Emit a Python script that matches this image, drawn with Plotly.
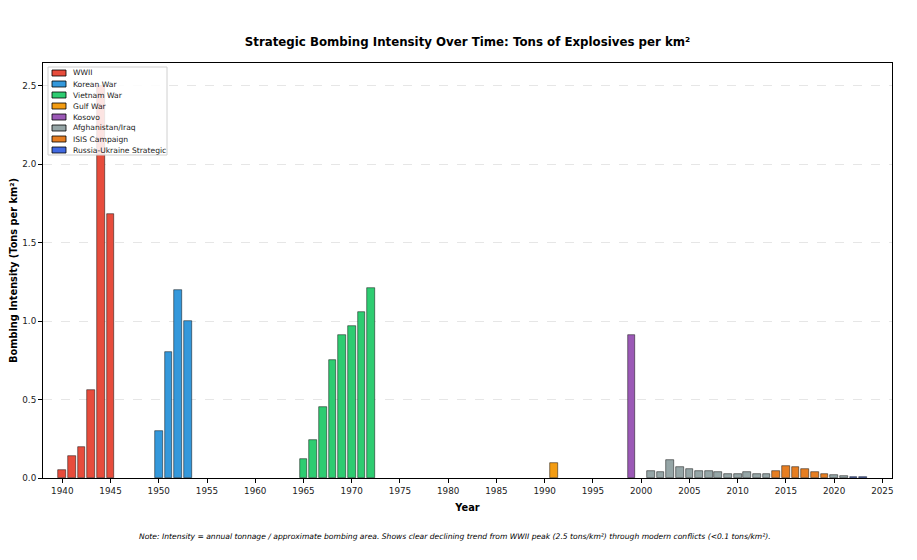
import plotly.graph_objects as go

# Data (tons per km^2)
wwii_years = [1940, 1941, 1942, 1943, 1944, 1945]
wwii_vals = [0.053, 0.14, 0.195, 0.56, 2.5, 1.68]

korea_years = [1950, 1951, 1952, 1953]
korea_vals = [0.30, 0.80, 1.20, 1.00]

vietnam_years = [1965, 1966, 1967, 1968, 1969, 1970, 1971, 1972]
vietnam_vals = [0.12, 0.24, 0.45, 0.755, 0.91, 0.967, 1.06, 1.21]

gulf_years = [1991]
gulf_vals = [0.093]

kosovo_years = [1999]
kosovo_vals = [0.91]

afg_years = [2001, 2002, 2003, 2004, 2005, 2006, 2007, 2008, 2009, 2010,
             2011, 2012, 2013, 2020, 2021]
afg_vals = [0.045, 0.036, 0.113, 0.068, 0.056, 0.046, 0.043, 0.037, 0.026,
            0.023, 0.036, 0.027, 0.025, 0.018, 0.012]

isis_years = [2014, 2015, 2016, 2017, 2018, 2019]
isis_vals = [0.046, 0.079, 0.068, 0.056, 0.037, 0.025]

ru_years = [2022, 2023]
ru_vals = [0.006, 0.004]

series = [
    ("WWII", wwii_years, wwii_vals, "#e74c3c"),
    ("Korean War", korea_years, korea_vals, "#3498db"),
    ("Vietnam War", vietnam_years, vietnam_vals, "#2ecc71"),
    ("Gulf War", gulf_years, gulf_vals, "#f39c12"),
    ("Kosovo", kosovo_years, kosovo_vals, "#9b59b6"),
    ("Afghanistan/Iraq", afg_years, afg_vals, "#95a5a6"),
    ("ISIS Campaign", isis_years, isis_vals, "#e67e22"),
    ("Russia-Ukraine Strategic", ru_years, ru_vals, "#4169e1"),
]

x_ticks = list(range(1940, 2026, 5))
y_ticks = [0.0, 0.5, 1.0, 1.5, 2.0, 2.5]

W, H = 917, 560
L, R, T, B = 43, 25, 63, 82
PW, PH = W - L - R, H - T - B

def px(xp):
    return (xp - L) / PW

def py(yp):
    return (H - B - yp) / PH

font_family = "DejaVu Sans"

fig = go.Figure()
for name, xs, ys, color in series:
    fig.add_trace(go.Bar(
        x=xs, y=ys, name=name, width=0.8, showlegend=False,
        marker=dict(color=color, line=dict(color="rgba(0,0,0,0.8)", width=0.6)),
    ))

# Legend (drawn as layout decoration, built from the series list)
shapes = []
annotations = []
shapes.append(dict(type="rect", xref="paper", yref="paper",
                   x0=px(48), x1=px(167), y0=py(155), y1=py(67),
                   line=dict(color="#d0d0d0", width=1),
                   fillcolor="rgba(255,255,255,0.85)", layer="above"))
for i, (name, xs, ys, color) in enumerate(series):
    cy = 73 + i * 11
    shapes.append(dict(type="rect", xref="paper", yref="paper",
                       x0=px(52), x1=px(66), y0=py(cy + 3), y1=py(cy - 3),
                       line=dict(color="black", width=0.8),
                       fillcolor=color, layer="above"))
    annotations.append(dict(text=name, x=px(71), y=py(cy), xref="paper", yref="paper",
                            xanchor="left", yanchor="middle", showarrow=False,
                            font=dict(family=font_family, size=7.6, color="#222")))

annotations.append(dict(
    text="<i>Note: Intensity = annual tonnage / approximate bombing area. Shows clear declining trend from WWII peak (2.5 tons/km²) through modern conflicts (<0.1 tons/km²).</i>",
    x=px(455), y=py(536), xref="paper", yref="paper",
    xanchor="center", yanchor="middle", showarrow=False,
    font=dict(family=font_family, size=7.6, color="black"),
))

fig.update_layout(
    width=W, height=H,
    margin=dict(l=L, r=R, t=T, b=B),
    paper_bgcolor="white", plot_bgcolor="white",
    barmode="overlay",
    bargap=0,
    font=dict(family=font_family, size=8.8, color="#222"),
    title=dict(
        text="<b>Strategic Bombing Intensity Over Time: Tons of Explosives per km²</b>",
        x=(L + PW / 2) / W, xanchor="center",
        y=1 - 42 / H, yanchor="middle",
        font=dict(family=font_family, size=11.8, color="black"),
    ),
    showlegend=False,
    xaxis=dict(
        range=[1938.0, 2026.0],
        tickmode="array", tickvals=x_ticks,
        ticks="outside", ticklen=4, tickcolor="black",
        showgrid=False, zeroline=False, automargin=False,
        showline=True, linecolor="black", linewidth=1, mirror=True,
        title=dict(text="<b>Year</b>", font=dict(family=font_family, size=9.8, color="black"), standoff=9),
        tickfont=dict(size=8.8, color="#222"),
    ),
    yaxis=dict(
        range=[0, 2.645],
        tickmode="array", tickvals=y_ticks, tickformat=".1f",
        ticks="outside", ticklen=4, tickcolor="black",
        showgrid=True, gridcolor="rgba(200,200,200,0.45)", griddash="dash", gridwidth=0.6,
        zeroline=False, automargin=False,
        showline=True, linecolor="black", linewidth=1, mirror=True,
        title=dict(text="<b>Bombing Intensity (Tons per km²)</b>",
                   font=dict(family=font_family, size=9.8, color="black"), standoff=2),
        tickfont=dict(size=8.8, color="#222"),
    ),
    shapes=shapes,
    annotations=annotations,
)

fig.write_html("out.html")
